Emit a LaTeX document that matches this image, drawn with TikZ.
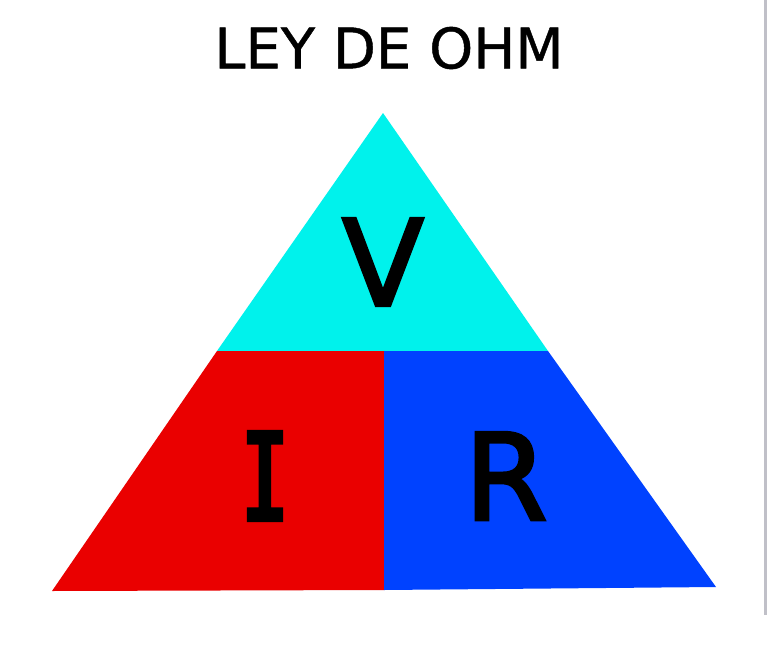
\documentclass[tikz,border=0pt]{standalone}
\usepackage{fontspec}
\setmainfont{DejaVu Sans}
\newfontfamily\titulofont{DejaVu Sans}[FakeBold=0.8]
\newfontfamily\letrafont{DejaVu Sans}[FakeBold=2.5]
\newfontfamily\letramono{DejaVu Sans Mono}[FakeBold=4, FakeStretch=0.65]
\definecolor{ohmcyan}{RGB}{0,242,236}
\definecolor{ohmred}{RGB}{234,0,0}
\definecolor{ohmblue}{RGB}{0,66,255}
\definecolor{borde}{RGB}{192,192,200}
\tikzset{
	letra/.style={font=\letrafont\fontsize{90}{90}\selectfont, inner sep=0pt, anchor=center},
}
\begin{document}
\begin{tikzpicture}[x=0.75pt, y=-0.75pt]
		\useasboundingbox (0, 0) rectangle (768, 650);
		\fill[white] (0, 0) rectangle (768, 650);
		\draw[line width=2.6pt, color=borde] (765.5, 0) -- (765.5, 615);

		% triangulo
		\fill[ohmcyan] (383, 113) -- (548, 351) -- (217, 351) -- cycle;
		\fill[ohmred] (217, 351) -- (384, 351) -- (384, 590) -- (52, 591) -- cycle;
		\fill[ohmblue] (384, 351) -- (548, 351) -- (716, 587) -- (384, 590) -- cycle;

		\node[font=\titulofont\fontsize{42}{42}\selectfont, inner sep=0pt] (titulo) at (389, 48) {LEY DE OHM};
		\node[letra] (V) at (383, 262) {V};
		\node[letra, font=\letramono\fontsize{90}{90}\selectfont] (I) at (265, 476) {I};
		\node[letra] (R) at (506, 476) {R};
	\end{tikzpicture}
\end{document}
